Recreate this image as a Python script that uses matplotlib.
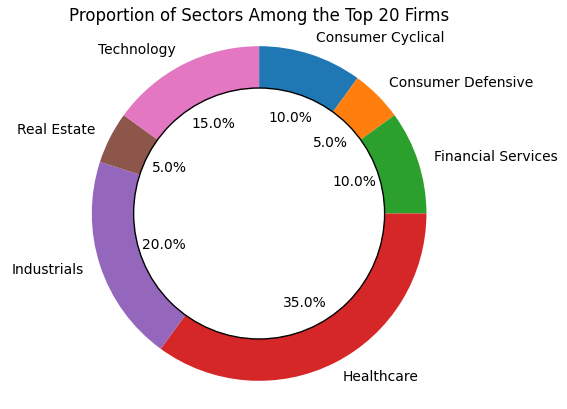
import matplotlib.pyplot as plt

# sector shares among the top 20 firms
sectors = ['Consumer Cyclical', 'Consumer Defensive', 'Financial Services',
           'Healthcare', 'Industrials', 'Real Estate', 'Technology']
counts = [2, 1, 2, 7, 4, 1, 3]

fig = plt.figure(figsize=(5.67, 4.09), dpi=100)
ax = fig.add_axes([0.032, 0.028, 0.85, 0.9])

ax.pie(counts, labels=sectors, autopct='%1.1f%%',
       startangle=90, counterclock=False)

# hole in the middle
hole = plt.Circle((0, 0), 0.75, facecolor='white', edgecolor='black')
ax.add_artist(hole)

ax.axis('equal')
ax.set_title('Proportion of Sectors Among the Top 20 Firms')

fig.savefig('out.png')
